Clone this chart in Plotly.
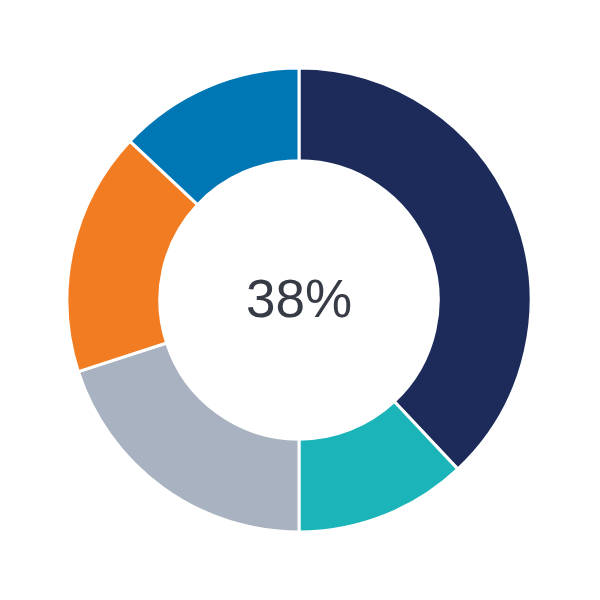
import plotly.graph_objects as go

# Segments, clockwise from 12 o'clock
labels = ['Navy', 'Teal', 'Gray', 'Orange', 'Blue']
values = [38, 12, 20, 17, 13]
colors = ['#1c2b5a', '#1bb4b8', '#a8b2c0', '#f27c21', '#0077b5']
center_text = '38%'

fig = go.Figure(
    go.Pie(
        labels=labels,
        values=values,
        hole=0.6,
        sort=False,
        direction='clockwise',
        rotation=0,
        textinfo='none',
        hoverinfo='label+percent',
        marker=dict(colors=colors, line=dict(color='white', width=3)),
        showlegend=False,
    )
)

# Big number in the middle of the ring
fig.add_annotation(
    text=center_text,
    x=0.5, y=0.5, xref='paper', yref='paper',
    yshift=2,
    showarrow=False,
    font=dict(family='Liberation Sans, Arial, sans-serif', size=53, color='#363b46'),
)

# page body adds ~8px offset, so margins are shifted up/left
fig.update_layout(
    width=600, height=600,
    margin=dict(l=59, r=77, t=60, b=76),
    paper_bgcolor='white',
    plot_bgcolor='white',
)

fig.write_html("out.html")
